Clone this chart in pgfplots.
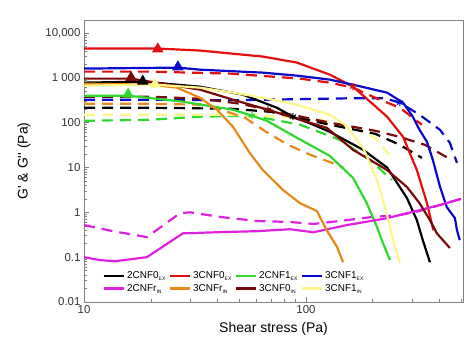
\documentclass[border=0pt]{standalone}
\usepackage{fontspec}
\setmainfont{Liberation Sans}
\usepackage{pgfplots}
\pgfplotsset{compat=1.18}
\definecolor{cRed}{HTML}{E41010}
\definecolor{cGreen}{HTML}{2ED82E}
\definecolor{cBlue}{HTML}{0A0ACC}
\definecolor{cMag}{HTML}{E020E0}
\definecolor{cOrange}{HTML}{E8891C}
\definecolor{cBrown}{HTML}{7A0A0A}
\definecolor{cYellow}{HTML}{FBF78A}
\definecolor{axgray}{HTML}{7F7F7F}
\newcommand{\sub}[1]{\raisebox{-0.35ex}{\fontsize{5}{5}\selectfont #1}}
\begin{document}
\begin{tikzpicture}
\path[use as bounding box] (-84bp,-52bp) rectangle (390bp,302bp);
\begin{axis}[
  at={(0,0)}, anchor=south west,
  scale only axis, width=379bp, height=282bp,
  xmode=log, ymode=log,
  xmin=10, xmax=510, ymin=0.01, ymax=19500,
  xtick={10,100}, xticklabels={10,100},
  minor xtick={20,30,40,50,60,70,80,90,200,300,400,500},
  ytick={0.01,0.1,1,10,100,1000,10000},
  yticklabels={0.01,0.1,1,10,100,1 000,{10,000}},
  minor ytick={0.02,0.03,0.04,0.05,0.06,0.07,0.08,0.09,0.2,0.3,0.4,0.5,0.6,0.7,0.8,0.9,2,3,4,5,6,7,8,9,20,30,40,50,60,70,80,90,200,300,400,500,600,700,800,900,2000,3000,4000,5000,6000,7000,8000,9000},
  xtick pos=bottom, ytick pos=left,
  tick align=inside,
  major tick length=5bp, minor tick length=3bp,
  axis line style={axgray, line width=0.9pt},
  every tick/.style={axgray, line width=0.6pt},
  tick label style={font=\fontsize{11.5}{12}\selectfont, text=black!80},
  xlabel={Shear stress (Pa)},
  ylabel={G\textquotesingle{} \& G\textquotesingle\textquotesingle{} (Pa)},
  every axis x label/.style={at={(axis description cs:0.5,-0.095)}, anchor=center, font=\fontsize{14}{15}\selectfont},
  every axis y label/.style={at={(axis description cs:-0.158,0.5)}, rotate=90, anchor=center, font=\fontsize{14}{15}\selectfont},
  legend columns=4,
  legend style={at={(0.048,0.025)}, anchor=south west, draw=none, fill=none,
    font=\fontsize{10}{11}\selectfont, inner sep=0pt,
    /tikz/every even column/.append style={column sep=1bp}},
  legend cell align=left,
  legend image code/.code={\draw[#1,line width=2.4pt,solid] (0cm,0cm) -- (0.72cm,0cm);},
  every axis plot/.append style={line width=2.2pt},
]
% ---------- G'' dashed ----------
\pgfplotsset{dsh/.style={dash pattern=on 11bp off 7bp, forget plot}}
\addplot[cMag, dsh] coordinates {(10,0.52)(13.5,0.38)(19.2,0.28)(27.1,0.96)(30,1.0)(41,0.79)(60.1,0.64)(84.7,0.61)(108,0.55)(153,0.67)(200,0.79)(265,0.87)(325,1.07)(402,1.46)(500,2.0)};
\addplot[cGreen, dsh] coordinates {(10,110)(19.8,116)(33.3,136)(57.1,143)(94,90)(142,41.4)(194,14.8)(244,5.28)};
\addplot[cYellow, dsh] coordinates {(10,150)(19.8,150)(45.5,150)(76.3,136)(116,116)(158,81)(205,46)(244,16.4)};
\addplot[black, dsh] coordinates {(10,215)(19.8,215)(45.5,205)(68.9,175)(87.3,136)(128,90)(205,56.5)(265,32)(333,16.4)};
\addplot[cOrange, dsh] coordinates {(10,265)(19.8,265)(33.3,251)(37.8,227)(53.1,129)(66.1,62.5)(83,32)(105,19.1)(135,12.0)(147,10)};
\addplot[cBlue, dsh] coordinates {(10,325)(20,325)(45,315)(94,335)(158,350)(227,350)(265,279)(325,150)(402,69)(445,35.5)(479,12.7)};
\addplot[cBrown, dsh] coordinates {(10,380)(19.8,380)(33.3,343)(50.5,265)(67.4,194)(128,100)(205,66)(265,48)(344,32)(436,16.4)};
\addplot[cRed, dsh] coordinates {(10,1377)(19.8,1377)(45.5,1242)(94,960)(128,781)(163,604)(205,360)(265,215)(333,90)};
% ---------- G' solid ----------
\addplot[black] coordinates {(10,781)(18.4,822)(33.3,635)(52,421)(74,215)(87.3,136)(108,90)(128,62.5)(181,24.8)(232,10)(285,2.09)(316,0.67)(336,0.24)(362,0.077)};
\addlegendentry{2CNF0\sub{EX}}
\addplot[cRed] coordinates {(10,4500)(21.5,4500)(33.3,4060)(63.9,2980)(91,2190)(128,1180)(163,635)(232,136)(274,48)(316,8.8)(351,1.6)(375,0.4)};
\addlegendentry{3CNF0\sub{EX}}
\addplot[cGreen] coordinates {(10,400)(15.8,400)(27.9,294)(46.9,194)(57.1,143)(66.7,110)(91,46)(128,18.2)(163,5.85)(188,1.6)(209,0.47)(222,0.21)(239,0.086)};
\addlegendentry{2CNF1\sub{EX}}
\addplot[cBlue] coordinates {(10,1607)(26.5,1690)(33.3,1520)(63.9,1306)(91,1120)(128,912)(170,670)(232,467)(274,279)(303,136)(325,69)(351,37.4)(373,14.8)(402,3.68)(431,1.31)(469,0.74)(479,0.40)(493,0.24)};
\addlegendentry{3CNF1\sub{EX}}
\addplot[cMag] coordinates {(10,0.1)(11.8,0.086)(13.8,0.081)(19.2,0.1)(27.9,0.34)(39.7,0.36)(60.1,0.38)(84.7,0.42)(98.9,0.38)(108,0.36)(153,0.52)(232,0.74)(325,1.12)(402,1.46)(500,2.0)};
\addlegendentry{2CNFr\sub{IN}}
\addplot[cOrange] coordinates {(10,741)(19.8,705)(26.2,604)(33.3,360)(39.7,194)(46.9,81)(55.8,21.2)(63.9,8.8)(78.8,3.16)(94,1.6)(112,1.07)(124,0.40)(138,0.17)(147,0.077)};
\addlegendentry{3CNFr\sub{IN}}
\addplot[cBrown] coordinates {(10,960)(16.3,960)(33.3,545)(46.9,325)(67.4,194)(94,116)(124,77)(163,24.8)(232,8.8)(285,3.68)(325,1.6)(362,0.67)(389,0.34)(445,0.16)};
\addlegendentry{3CNF0\sub{IN}}
\addplot[cYellow] coordinates {(10,670)(20.9,705)(33.3,604)(46.9,467)(63.9,360)(91,251)(128,150)(150,90)(181,27.5)(209,5.28)(232,0.87)(247,0.24)(265,0.073)};
\addlegendentry{3CNF1\sub{IN}}
% ---------- markers ----------
\pgfplotsset{tri/.style={only marks, mark=triangle*, mark size=4.5bp, forget plot}}
\addplot[cRed, tri] coordinates {(21.5,4400)};
\addplot[cBlue, tri] coordinates {(26.5,1750)};
\addplot[cBrown, tri] coordinates {(16.3,1020)};
\addplot[black, tri] coordinates {(18.4,840)};
\addplot[cYellow, tri] coordinates {(20.9,720)};
\addplot[cGreen, tri] coordinates {(15.8,430)};
\pgfplotsset{st/.style={only marks, mark=asterisk, mark size=3.5bp, line width=1.2pt, forget plot}}
\addplot[cRed, st] coordinates {(163,635)};
\addplot[cBlue, st] coordinates {(265,279)};
\addplot[black, st] coordinates {(87.3,136)};
\addplot[cBrown, st] coordinates {(67.4,194)};
\addplot[cGreen, st] coordinates {(57.1,143)};
\end{axis}
\end{tikzpicture}
\end{document}
